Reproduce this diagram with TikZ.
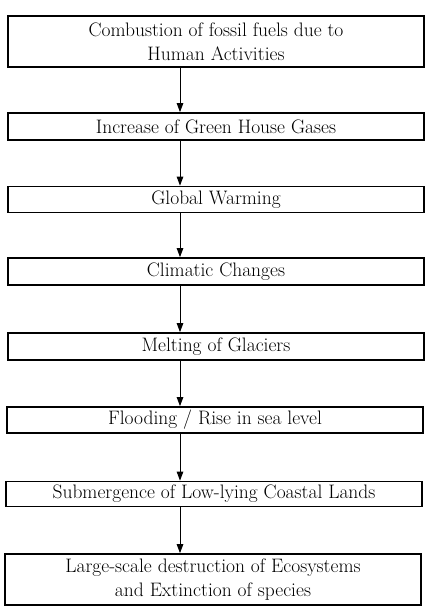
\documentclass[tikz,border=0pt]{standalone}
\usetikzlibrary{arrows.meta}
\begin{document}
\begin{tikzpicture}[x=1pt,y=-1pt,
  flowbox/.style={draw, line width=1.7pt, minimum width=416pt, inner sep=0pt, align=center, font=\fontsize{19.5}{23.5}\selectfont},
  flowarrow/.style={line width=1pt, -{Triangle[length=9pt,width=6.5pt]}}]
\useasboundingbox (0,0) rectangle (429,613);
\node[flowbox, minimum height=51pt] (b1) at (216,41.5) {Combustion of fossil fuels due to\\Human Activities};
\node[flowbox, minimum height=27pt] (b2) at (216,126.5) {Increase of Green House Gases};
\node[flowbox, minimum height=26pt] (b3) at (216,199.5) {Global Warming};
\node[flowbox, minimum height=27pt] (b4) at (216,271.5) {Climatic Changes};
\node[flowbox, minimum height=27pt] (b5) at (216,346.5) {Melting of Glaciers};
\node[flowbox, minimum height=26pt] (b6) at (215,420) {Flooding / Rise in sea level};
\node[flowbox, minimum height=25pt] (b7) at (214,494) {Submergence of Low-lying Coastal Lands};
\node[flowbox, minimum height=51pt] (b8) at (213,579.5) {Large-scale destruction of Ecosystems\\and Extinction of species};
\coordinate (ax) at (180,0);
\foreach \a/\b in {b1/b2,b2/b3,b3/b4,b4/b5,b5/b6,b6/b7,b7/b8}
  \draw[flowarrow] (\a.south -| ax) -- (\b.north -| ax);
\end{tikzpicture}
\end{document}
